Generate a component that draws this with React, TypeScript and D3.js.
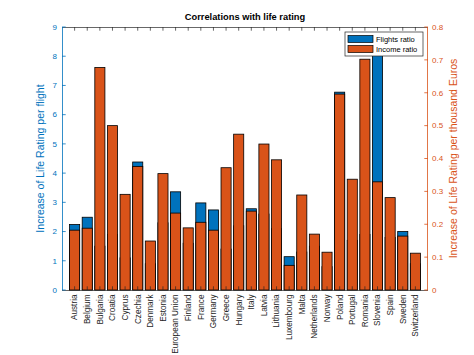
import React from "react";
import * as d3 from "d3";

const countries = ["Austria","Belgium","Bulgaria","Croatia","Cyprus","Czechia","Denmark","Estonia","European Union","Finland","France","Germany","Greece","Hungary","Italy","Latvia","Lithuania","Luxembourg","Malta","Netherlands","Norway","Poland","Portugal","Romania","Slovenia","Spain","Sweden","Switzerland"];
// Flights ratio (left axis)
const flightsRatio = [2.24,2.49,1.5,1.9,1.1,4.38,0.9,2.3,3.36,1.6,2.98,2.74,1.4,2.2,2.78,2.6,2.1,1.14,1.3,1.5,0.8,6.77,1.7,1.9,8.3,1.8,2.0,0.9];
// Income ratio (right axis)
const incomeRatio = [0.182,0.188,0.677,0.500,0.291,0.376,0.149,0.354,0.234,0.189,0.206,0.182,0.372,0.474,0.240,0.444,0.396,0.075,0.289,0.170,0.115,0.596,0.337,0.702,0.329,0.281,0.164,0.112];
const leftTicks = [0,1,2,3,4,5,6,7,8,9];
const rightTicks = [0,0.1,0.2,0.3,0.4,0.5,0.6,0.7,0.8];

const W = 474, H = 355;
const L = 62, R = 428, T = 27, B = 290;
const BLUE = "#0072BD", ORANGE = "#D95319", AX = "#262626";
const FONT = "Liberation Sans, Arial, Helvetica, sans-serif";

export default function App() {
  const x = d3.scaleLinear().domain([0, countries.length + 1]).range([L, R]);
  const yL = d3.scaleLinear().domain([0, 9]).range([B, T]);
  const yR = d3.scaleLinear().domain([0, 0.8]).range([B, T]);
  const step = x(1) - x(0);
  const bw = step * 0.8;
  const tl = 3.7;
  return (
    <svg width={W} height={H} style={{ position: "absolute", left: 0, top: 0, background: "#fff" }} fontFamily={FONT}>
      <rect x={0} y={0} width={W} height={H} fill="#fff" />
      <rect x={L} y={T} width={R - L} height={B - T} fill="#fff" />
      {/* flights bars (left axis), drawn first */}
      {countries.map((c, i) => (
        <rect key={"f" + c} x={x(i + 1) - bw / 2} y={yL(flightsRatio[i])} width={bw} height={B - yL(flightsRatio[i])}
          fill={BLUE} stroke="#000" strokeWidth={0.8} />
      ))}
      {/* income bars (right axis), overlaid */}
      {countries.map((c, i) => (
        <rect key={"i" + c} x={x(i + 1) - bw / 2} y={yR(incomeRatio[i])} width={bw} height={B - yR(incomeRatio[i])}
          fill={ORANGE} stroke="#000" strokeWidth={0.8} />
      ))}
      {/* top & bottom axes */}
      <line x1={L} x2={R} y1={T + 0.5} y2={T + 0.5} stroke={AX} strokeWidth={0.7} />
      <line x1={L} x2={R} y1={B + 0.5} y2={B + 0.5} stroke={AX} strokeWidth={0.7} />
      {countries.map((c, i) => (
        <g key={"xt" + c}>
          <line x1={x(i + 1)} x2={x(i + 1)} y1={B} y2={B - tl} stroke={AX} strokeWidth={0.7} />
          <line x1={x(i + 1)} x2={x(i + 1)} y1={T} y2={T + tl} stroke={AX} strokeWidth={0.7} />
          <text transform={`translate(${x(i + 1)},${B + 4.5}) rotate(-90)`} textAnchor="end" dy="0.35em"
            fontSize={8.2} fill={AX}>{c}</text>
        </g>
      ))}
      {/* left axis */}
      <line x1={L + 0.5} x2={L + 0.5} y1={T} y2={B} stroke={BLUE} strokeWidth={0.8} />
      {leftTicks.map((t) => (
        <g key={"l" + t}>
          <line x1={L} x2={L + tl} y1={yL(t)} y2={yL(t)} stroke={BLUE} strokeWidth={0.8} />
          <text x={L - 5} y={yL(t)} dy="0.35em" textAnchor="end" fontSize={8} fill={BLUE}>{t}</text>
        </g>
      ))}
      {/* right axis */}
      <line x1={R - 0.5} x2={R - 0.5} y1={T} y2={B} stroke={ORANGE} strokeWidth={0.8} />
      {rightTicks.map((t) => (
        <g key={"r" + t}>
          <line x1={R} x2={R - tl} y1={yR(t)} y2={yR(t)} stroke={ORANGE} strokeWidth={0.8} />
          <text x={R + 4} y={yR(t)} dy="0.35em" textAnchor="start" fontSize={8} fill={ORANGE}>{d3.format("")(t)}</text>
        </g>
      ))}
      {/* axis labels */}
      <text transform={`translate(44,${(T + B) / 2}) rotate(-90)`} textAnchor="middle" fontSize={10.5} fill={BLUE}>Increase of Life Rating per flight</text>
      <text transform={`translate(457,${(T + B) / 2}) rotate(-90)`} textAnchor="middle" fontSize={10.5} fill={ORANGE}>Increase of Life Rating per thousand Euros</text>
      {/* title */}
      <text x={(L + R) / 2} y={20} textAnchor="middle" fontSize={9.3} fontWeight="bold" fill="#000">Correlations with life rating</text>
      {/* legend */}
      <g>
        <rect x={345} y={32} width={78} height={24} fill="#fff" stroke={AX} strokeWidth={0.7} />
        <rect x={348} y={35.5} width={25} height={7} fill={BLUE} stroke="#000" strokeWidth={0.7} />
        <text x={376} y={39} dy="0.35em" fontSize={7.5} fill="#000">Flights ratio</text>
        <rect x={348} y={45.5} width={25} height={7} fill={ORANGE} stroke="#000" strokeWidth={0.7} />
        <text x={376} y={49} dy="0.35em" fontSize={7.5} fill="#000">Income ratio</text>
      </g>
    </svg>
  );
}
